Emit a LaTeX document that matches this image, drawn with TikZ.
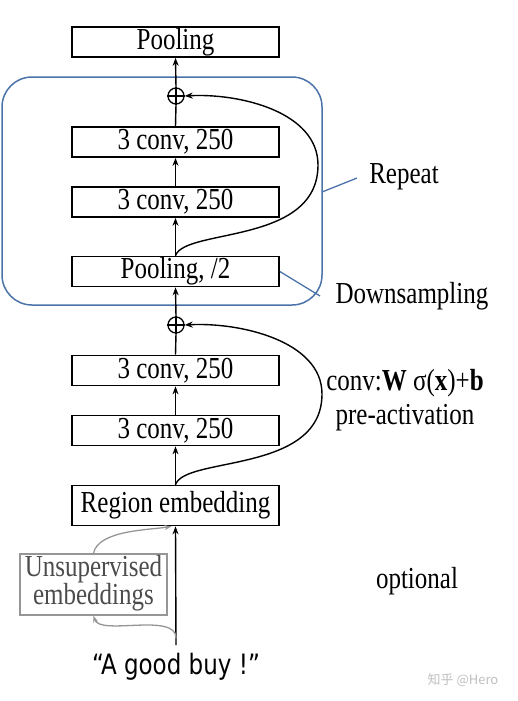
\documentclass[tikz,border=0pt]{standalone}
\usepackage{fontspec}
\usepackage{graphicx}
\setmainfont{Liberation Serif}
\newfontfamily\comicfont{DejaVu Sans}
\newfontfamily\cjkfont{Noto Sans CJK SC}
\usetikzlibrary{arrows.meta}
\definecolor{boxblue}{RGB}{75,115,170}
\definecolor{softgray}{RGB}{150,150,150}
\newcommand{\tallt}[1]{\scalebox{1}[1.22]{#1}}
\begin{document}
\begin{tikzpicture}[x=1pt,y=-1pt,
  layer/.style={draw,line width=1.7pt,minimum width=207pt,minimum height=30pt,inner sep=0pt,font=\fontsize{25}{25}\selectfont},
  sumnode/.style={draw,circle,line width=1.3pt,minimum size=16pt,inner sep=0pt},
  arr/.style={-{Stealth[length=8pt,width=6pt]},line width=1.4pt},
  lbl/.style={font=\fontsize{25}{28}\selectfont,align=center}]
\useasboundingbox (0,0) rectangle (517,701);
% repeat frame
\draw[boxblue,line width=1.5pt,rounded corners=30pt] (2,77) rectangle (322,305);
\node[layer] (pooltop) at (175.5,42) {\tallt{Pooling}};
\node[sumnode] (sumA) at (176,96) {};
\draw[line width=1.1pt] (sumA.west)--(sumA.east) (sumA.north)--(sumA.south);
\node[layer] (convA) at (175.5,142) {\tallt{3 conv, 250}};
\node[layer] (convB) at (175.5,202) {\tallt{3 conv, 250}};
\node[layer] (poolhalf) at (175.5,271.5) {\tallt{Pooling, /2}};
\node[sumnode] (sumB) at (176,325) {};
\draw[line width=1.1pt] (sumB.west)--(sumB.east) (sumB.north)--(sumB.south);
\node[layer] (convC) at (175.5,370.5) {\tallt{3 conv, 250}};
\node[layer] (convD) at (175.5,430.5) {\tallt{3 conv, 250}};
\node[layer,minimum height=40pt] (region) at (175.5,505.5) {\tallt{Region embedding}};
\node[draw=softgray,text=black!70,line width=1.3pt,minimum width=147pt,minimum height=61pt,inner sep=0pt,font=\fontsize{25}{25}\selectfont] (unsup) at (93.5,584.5) {\tallt{\begin{tabular}{@{}c@{}}Unsupervised\\[-2pt]embeddings\end{tabular}}};
\node[font=\comicfont\fontsize{23}{23}\selectfont] (input) at (176,667) {\tallt{“A good buy !”}};
\coordinate (inTop) at (176,645);
\coordinate (split) at (176,638);
% main chain
\draw[arr] (inTop) -- (region.south);
\draw[arr] (region.north) -- (convD.south);
\draw[arr] (convD.north) -- (convC.south);
\draw[line width=1.4pt] (convC.north) -- (sumB.south);
\draw[arr] (sumB.north) -- (poolhalf.south);
\draw[arr] (poolhalf.north) -- (convB.south);
\draw[arr] (convB.north) -- (convA.south);
\draw[line width=1.4pt] (convA.north) -- (sumA.south);
\draw[arr] (sumA.north) -- (pooltop.south);
% skip connections
\draw[arr] (poolhalf.north) .. controls (185,228) and (318,245) .. (318,165) .. controls (318,112) and (240,93) .. (sumA.east);
\draw[arr] (region.north) .. controls (185,456) and (322,474) .. (322,394) .. controls (322,341) and (240,322) .. (sumB.east);
% optional unsupervised path
\draw[softgray,line width=1.3pt,-{Stealth[length=7pt,width=5pt]}] (split) .. controls (176,612) and (100,636) .. (unsup.south);
\draw[softgray,line width=1.3pt,-{Stealth[length=7pt,width=5pt]}] (unsup.north) .. controls (98,530) and (150,530) .. ([xshift=-4pt]region.south);
% labels
\node[lbl] (repeat) at (404,177) {\tallt{Repeat}};
\node[lbl] (down) at (412,296) {\tallt{Downsampling}};
\node[lbl] (convlbl) at (405,383) {\tallt{conv:\textbf{W} σ(\textbf{x})+\textbf{b}}};
\node[lbl] (preact) at (405,418) {\tallt{pre-activation}};
\node[lbl] (opt) at (417,581) {\tallt{optional}};
\coordinate (repEnd) at (357,178);
\draw[boxblue,line width=1.3pt] (322,192) -- (repEnd);
\draw[boxblue,line width=1.3pt] (poolhalf.east) -- (320,296);
\node[font=\cjkfont\fontsize{13}{13}\selectfont,text=black!25] (wm) at (463,680) {知乎 @Hero};
\end{tikzpicture}
\end{document}
